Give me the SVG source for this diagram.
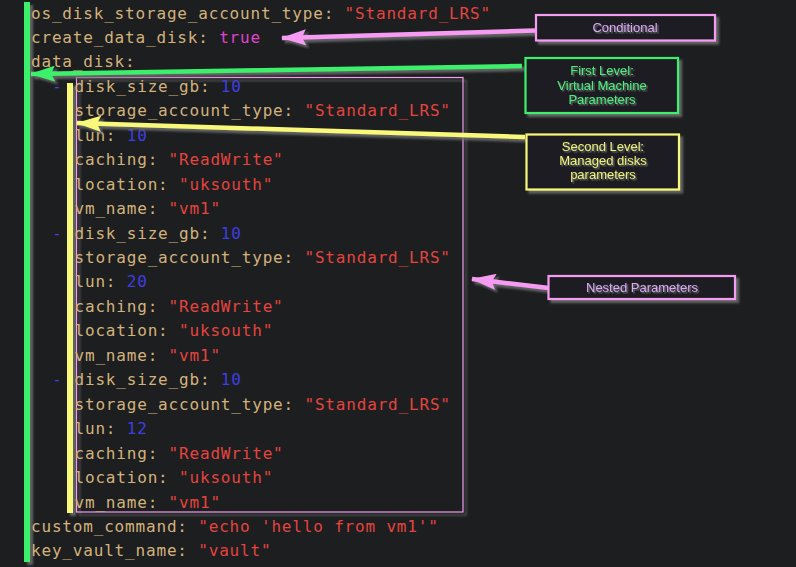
<svg xmlns="http://www.w3.org/2000/svg" width="796" height="567" viewBox="0 0 796 567">
<style>
.code text{font-family:"DejaVu Sans Mono","Liberation Mono",monospace;font-size:16px;letter-spacing:0.82px;fill:#d3b27c}
.code .s{fill:#e5443f}
.code .n{fill:#3f3fe0}
.code .b{fill:#e043cc}
.code .d{fill:#4242e6;letter-spacing:0}
.lbl{font-family:"Liberation Sans",Arial,sans-serif;font-size:13px;text-anchor:middle}
.box{fill:#1c1e20;stroke-width:2.2}
.arr{stroke-width:4.5;fill:none;stroke-linecap:butt}
</style>
<defs>
<filter id="sh" x="-10%" y="-10%" width="130%" height="140%">
<feDropShadow dx="3" dy="3" stdDeviation="1.2" flood-color="#6e6e6e" flood-opacity="0.85"/>
</filter>
<filter id="tsh" x="-10%" y="-20%" width="130%" height="150%">
<feDropShadow dx="1.5" dy="1.5" stdDeviation="0.6" flood-color="#777" flood-opacity="0.8"/>
</filter>
<marker id="mPink" viewBox="0 0 25 16" refX="24" refY="8" markerWidth="25" markerHeight="16" markerUnits="userSpaceOnUse" orient="auto">
<path d="M0,0 L25,8 L0,16 L4,8 Z" fill="#f59cf2"/>
</marker>
<marker id="mGreen" viewBox="0 0 25 16" refX="24" refY="8" markerWidth="25" markerHeight="16" markerUnits="userSpaceOnUse" orient="auto">
<path d="M0,0 L25,8 L0,16 L4,8 Z" fill="#3ef06c"/>
</marker>
<marker id="mYellow" viewBox="0 0 25 16" refX="24" refY="8" markerWidth="25" markerHeight="16" markerUnits="userSpaceOnUse" orient="auto">
<path d="M0,0 L25,8 L0,16 L4,8 Z" fill="#f8f87a"/>
</marker>
</defs>
<rect x="0" y="0" width="796" height="567" fill="#1c1e20"/>

<g id="level-bars" filter="url(#sh)">
<rect id="first-level-bar" x="24" y="2" width="6" height="560" fill="#3ef06c"/>
<rect id="second-level-bar" x="67" y="83" width="6" height="430" fill="#f8f87a"/>
<rect id="nested-region" x="76.5" y="77.5" width="386.5" height="434.5" fill="none" stroke="#f39cf0" stroke-width="1.2"/>
</g>

<g id="code" class="code">
<text x="31" y="18.5">os_disk_storage_account_type: <tspan class="s">"Standard_LRS"</tspan></text>
<text x="31" y="42.95">create_data_disk: <tspan class="b">true</tspan></text>
<text x="31" y="67.4">data_disk:</text>
<text x="52.5" y="91.85" class="d" textLength="9" lengthAdjust="spacingAndGlyphs">-</text>
<text x="74.5" y="91.85">disk_size_gb: <tspan class="n">10</tspan></text>
<text x="74.5" y="116.3">storage_account_type: <tspan class="s">"Standard_LRS"</tspan></text>
<text x="74.5" y="140.75">lun: <tspan class="n">10</tspan></text>
<text x="74.5" y="165.2">caching: <tspan class="s">"ReadWrite"</tspan></text>
<text x="74.5" y="189.65">location: <tspan class="s">"uksouth"</tspan></text>
<text x="74.5" y="214.1">vm_name: <tspan class="s">"vm1"</tspan></text>
<text x="52.5" y="238.55" class="d" textLength="9" lengthAdjust="spacingAndGlyphs">-</text>
<text x="74.5" y="238.55">disk_size_gb: <tspan class="n">10</tspan></text>
<text x="74.5" y="263">storage_account_type: <tspan class="s">"Standard_LRS"</tspan></text>
<text x="74.5" y="287.45">lun: <tspan class="n">20</tspan></text>
<text x="74.5" y="311.9">caching: <tspan class="s">"ReadWrite"</tspan></text>
<text x="74.5" y="336.35">location: <tspan class="s">"uksouth"</tspan></text>
<text x="74.5" y="360.8">vm_name: <tspan class="s">"vm1"</tspan></text>
<text x="52.5" y="385.25" class="d" textLength="9" lengthAdjust="spacingAndGlyphs">-</text>
<text x="74.5" y="385.25">disk_size_gb: <tspan class="n">10</tspan></text>
<text x="74.5" y="409.7">storage_account_type: <tspan class="s">"Standard_LRS"</tspan></text>
<text x="74.5" y="434.15">lun: <tspan class="n">12</tspan></text>
<text x="74.5" y="458.6">caching: <tspan class="s">"ReadWrite"</tspan></text>
<text x="74.5" y="483.05">location: <tspan class="s">"uksouth"</tspan></text>
<text x="74.5" y="507.5">vm_name: <tspan class="s">"vm1"</tspan></text>
<text x="31" y="531.95">custom_command: <tspan class="s">"echo 'hello from vm1'"</tspan></text>
<text x="31" y="556.4">key_vault_name: <tspan class="s">"vault"</tspan></text>
</g>

<g id="connectors" filter="url(#sh)">
<line class="arr" x1="535" y1="30.5" x2="282" y2="38" stroke="#f59cf2" marker-end="url(#mPink)"/>
<line class="arr" x1="522" y1="66" x2="31" y2="74" stroke="#3ef06c" marker-end="url(#mGreen)"/>
<line class="arr" x1="525" y1="137" x2="77" y2="123" stroke="#f8f87a" marker-end="url(#mYellow)"/>
<line class="arr" x1="549" y1="288" x2="472" y2="279" stroke="#f59cf2" marker-end="url(#mPink)"/>
</g>

<g id="conditional" filter="url(#sh)">
<rect class="box" x="536" y="15" width="179" height="25.5" stroke="#f59cf2"/>
<text class="lbl" x="625" y="31.5" fill="#dca8f8" filter="url(#tsh)">Conditional</text>
</g>

<g id="first-level" filter="url(#sh)">
<rect class="box" x="525.5" y="58" width="152.5" height="55" stroke="#3ef06c"/>
<text class="lbl" x="602" y="75" fill="#4cf080" filter="url(#tsh)">First Level:</text>
<text class="lbl" x="602" y="89.5" fill="#4cf080" filter="url(#tsh)">Virtual Machine</text>
<text class="lbl" x="602" y="104" fill="#4cf080" filter="url(#tsh)">Parameters</text>
</g>

<g id="second-level" filter="url(#sh)">
<rect class="box" x="526.5" y="134.5" width="152.5" height="55" stroke="#f8f87a"/>
<text class="lbl" x="603" y="150.5" fill="#eef07e" filter="url(#tsh)">Second Level:</text>
<text class="lbl" x="603" y="164.5" fill="#eef07e" filter="url(#tsh)">Managed disks</text>
<text class="lbl" x="603" y="178.5" fill="#eef07e" filter="url(#tsh)">parameters</text>
</g>

<g id="nested-parameters" filter="url(#sh)">
<rect class="box" x="548.5" y="276" width="186.5" height="23" stroke="#f59cf2"/>
<text class="lbl" x="642" y="292" fill="#dca8f8" filter="url(#tsh)">Nested Parameters</text>
</g>
</svg>
